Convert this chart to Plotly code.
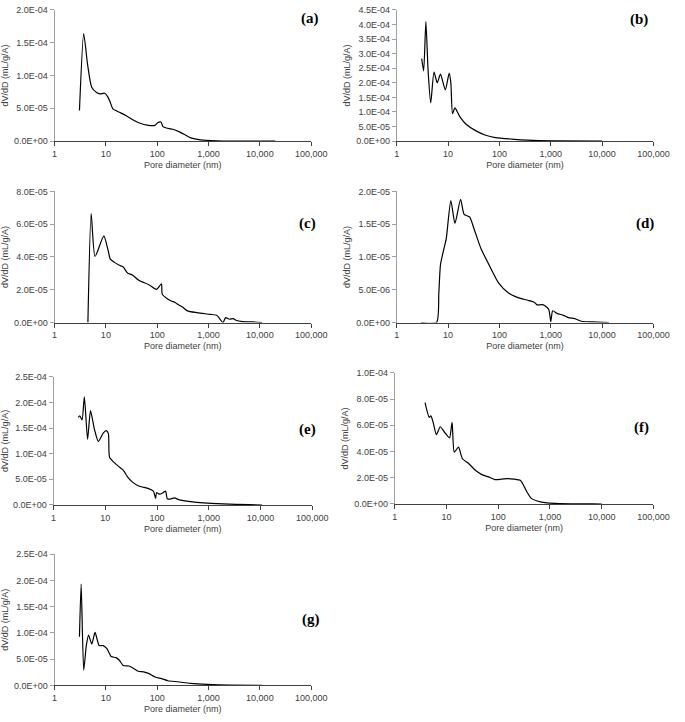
import plotly.graph_objects as go

# ---------------- data ----------------
x_ticks = [1, 10, 100, 1000, 10000, 100000]
x_tick_labels = ["1", "10", "100", "1,000", "10,000", "100,000"]

panel_labels = ["(a)", "(b)", "(c)", "(d)", "(e)", "(f)", "(g)"]

a_x = [3.06, 3.7, 4.4, 5.3, 6.6, 7.7, 9.5, 11, 12.2, 13.7, 18.3, 24.5, 32.7, 43.8, 67.6, 90.6,
       102, 118, 130, 151, 201, 270, 360, 450, 690, 1440, 5300, 20000]
a_y = [4.67e-5, 1.64e-4, 1.17e-4, 8.2e-5, 7.4e-5, 7.2e-5, 7.3e-5, 6.7e-5, 5.9e-5, 4.9e-5, 4.4e-5,
       3.9e-5, 3.3e-5, 2.8e-5, 2.4e-5, 2.4e-5, 2.8e-5, 2.9e-5, 2.2e-5, 2.0e-5, 1.8e-5, 1.4e-5,
       9e-6, 5e-6, 2e-6, 5e-7, 0, 0]
a_yticks = [0, 5e-5, 1e-4, 1.5e-4, 2e-4]

b_x = [3.06, 3.34, 3.69, 4.08, 4.59, 5.31, 6.14, 7.1, 8.83, 10.5, 11.3, 12.2, 13.6, 17, 22.7, 35,
       54, 84, 172, 357, 1140, 10000]
b_y = [2.83e-4, 2.41e-4, 4.1e-4, 2.4e-4, 1.31e-4, 2.37e-4, 2.0e-4, 2.3e-4, 1.76e-4, 2.33e-4,
       2.0e-4, 9.4e-5, 1.14e-4, 8.3e-5, 5.7e-5, 3.5e-5, 2.0e-5, 1.2e-5, 7e-6, 3.4e-6, 1e-6, 0]
b_yticks = [0, 5e-5, 1e-4, 1.5e-4, 2e-4, 2.5e-4, 3e-4, 3.5e-4, 4e-4, 4.5e-4]

c_x = [4.47, 5.17, 6.15, 9.12, 11, 12.2, 14.7, 18.3, 21.8, 26.3, 32.7, 43.8, 67.6, 97, 121, 126,
       187, 217, 251, 311, 388, 600, 1070, 1440, 1920, 2150, 2570, 3040, 3430, 4580, 7070, 11000]
c_y = [0, 6.65e-5, 4.03e-5, 5.28e-5, 4.43e-5, 3.87e-5, 3.67e-5, 3.49e-5, 3.39e-5, 3.02e-5,
       2.9e-5, 2.58e-5, 2.32e-5, 2.02e-5, 2.36e-5, 1.71e-5, 1.31e-5, 1.25e-5, 1.11e-5, 9.5e-6,
       7.1e-6, 6.0e-6, 5.0e-6, 4.4e-6, 0, 3.0e-6, 2.0e-6, 2.4e-6, 1.4e-6, 6e-7, 4e-7, 0]
c_yticks = [0, 2e-5, 4e-5, 6e-5, 8e-5]

d_x = [3.0, 5.97, 6.6, 7.1, 8.2, 9.2, 11.3, 13.6, 17.5, 20.5, 26.2, 32.6, 43.6, 62.7, 96.9, 150,
       231, 357, 477, 537, 718, 913, 1000, 1090, 1320, 1770, 2190, 2930, 3930, 6500, 13500]
d_y = [0, 0, 4.5e-6, 8.8e-6, 1.11e-5, 1.28e-5, 1.86e-5, 1.51e-5, 1.88e-5, 1.65e-5, 1.61e-5,
       1.41e-5, 1.13e-5, 8.8e-6, 6.0e-6, 4.5e-6, 3.8e-6, 3.4e-6, 3.1e-6, 2.7e-6, 2.7e-6, 2.0e-6,
       1.5e-7, 1.8e-6, 1.4e-6, 1.1e-6, 7.6e-7, 6e-7, 2e-7, 1e-7, 0]
d_yticks = [0, 5e-6, 1e-5, 1.5e-5, 2e-5]

e_x = [2.99, 3.22, 3.56, 3.94, 4.55, 5.18, 6.16, 7.33, 9.1, 10.5, 11.5, 12.1, 15.1, 18.7, 22.2,
       26.9, 33.2, 44.4, 68.5, 85, 94, 98, 113, 131, 147, 158, 188, 217, 270, 447, 795, 1890,
       6000, 10700]
e_y = [1.71e-4, 1.74e-4, 1.66e-4, 2.11e-4, 1.28e-4, 1.84e-4, 1.48e-4, 1.24e-4, 1.40e-4, 1.45e-4,
       1.39e-4, 9.3e-5, 8.2e-5, 7.4e-5, 6.8e-5, 5.5e-5, 4.5e-5, 3.7e-5, 3.2e-5, 2.7e-5, 1.3e-5,
       2.4e-5, 2.1e-5, 2.4e-5, 2.7e-5, 1.2e-5, 1.2e-5, 1.4e-5, 1.0e-5, 6.5e-6, 4e-6, 2e-6, 6e-7, 0]
e_yticks = [0, 5e-5, 1e-4, 1.5e-4, 2e-4, 2.5e-4]

f_x = [3.84, 4.63, 4.98, 5.51, 6.37, 7.57, 9.14, 11.4, 12.8, 14.1, 17, 20.3, 27, 36.1, 48.2, 64.5,
       86, 115, 153, 205, 266, 295, 357, 435, 565, 870, 1550, 6600, 10000]
f_y = [7.73e-5, 6.6e-5, 6.72e-5, 6.22e-5, 5.29e-5, 5.89e-5, 5.47e-5, 5.04e-5, 6.22e-5, 3.95e-5,
       4.33e-5, 3.45e-5, 3.07e-5, 2.57e-5, 2.24e-5, 2.07e-5, 1.86e-5, 1.89e-5, 1.94e-5, 1.89e-5,
       1.81e-5, 1.56e-5, 9.3e-6, 4.3e-6, 2.3e-6, 8e-7, 3e-7, 1e-7, 0]
f_yticks = [0, 2e-5, 4e-5, 6e-5, 8e-5, 1e-4]

g_x = [3.06, 3.3, 3.7, 4.16, 4.6, 5.32, 6.15, 7.43, 8.85, 10.5, 12.7, 15.8, 18.3, 21.8, 28.3, 35.2,
       42.6, 54.5, 67.7, 90.6, 121, 162, 251, 447, 930, 2570, 11000]
g_y = [9.3e-5, 1.93e-4, 2.9e-5, 7.6e-5, 9.6e-5, 7.9e-5, 1.01e-4, 7.6e-5, 7.6e-5, 7.0e-5, 5.5e-5,
       5.3e-5, 4.8e-5, 3.8e-5, 3.7e-5, 3.2e-5, 2.7e-5, 2.6e-5, 2.3e-5, 1.6e-5, 1.3e-5, 9e-6,
       7e-6, 4e-6, 2e-6, 6e-7, 0]
g_yticks = [0, 5e-5, 1e-4, 1.5e-4, 2e-4, 2.5e-4]

series_x = [a_x, b_x, c_x, d_x, e_x, f_x, g_x]
series_y = [a_y, b_y, c_y, d_y, e_y, f_y, g_y]
series_yticks = [a_yticks, b_yticks, c_yticks, d_yticks, e_yticks, f_yticks, g_yticks]

x_title = "Pore diameter (nm)"
y_title = "dV/dD (mL/g/A)"

# ---------------- layout (pixel boxes) ----------------
W, H = 685, 722
# (left, right, top, bottom) pixel boxes of each plot area
boxes = [
    (53, 317, 5, 138),
    (405, 669, 5, 138),
    (53, 317, 189, 322),
    (405, 669, 189, 322),
    (52, 318, 377, 507),
    (403, 669, 373, 506),
    (53, 317, 557, 690),
]
label_pos = [(316, 14), (654, 15), (313, 222), (660, 222), (313, 430), (657, 428), (317, 623)]

FONT = "Liberation Sans, Arial, sans-serif"
TXT = "#404040"

fig = go.Figure()
layout = dict(
    width=W, height=H,
    margin=dict(l=0, r=0, t=0, b=0),
    paper_bgcolor="white", plot_bgcolor="white",
    showlegend=False,
    font=dict(family=FONT, size=9, color=TXT),
    annotations=[],
)

for i in range(7):
    n = "" if i == 0 else str(i + 1)
    fig.add_trace(go.Scatter(
        x=series_x[i], y=series_y[i], mode="lines",
        line=dict(color="black", width=1.2, shape="spline", smoothing=0.6),
        xaxis="x" + n, yaxis="y" + n, hoverinfo="skip",
    ))
    l, r, t, b = boxes[i]
    yt = series_yticks[i]
    layout["xaxis" + n] = dict(
        domain=[l / W, r / W], anchor="y" + n, type="log", range=[0, 5],
        tickvals=x_ticks, ticktext=x_tick_labels,
        showgrid=False, zeroline=False,
        showline=True, linecolor="#404040", linewidth=1,
        ticks="outside", ticklen=4, tickcolor="#404040",
        tickfont=dict(size=9, color=TXT, family=FONT),
        title=dict(text=x_title, font=dict(size=9, color=TXT, family=FONT), standoff=3),
    )
    layout["yaxis" + n] = dict(
        domain=[1 - b / H, 1 - t / H], anchor="x" + n,
        range=[0, yt[-1]],
        tickvals=yt, ticktext=[f"{v:.1E}" for v in yt],
        showgrid=False, zeroline=False,
        showline=True, linecolor="#a0a0a0", linewidth=1,
        ticks="outside", ticklen=4, tickcolor="#a0a0a0",
        tickfont=dict(size=9, color=TXT, family=FONT),
        title=dict(text=y_title, font=dict(size=9, color=TXT, family=FONT), standoff=4),
    )
    lx, ly = label_pos[i]
    layout["annotations"].append(dict(
        text="<b>" + panel_labels[i] + "</b>", x=lx / W, y=1 - ly / H,
        xref="paper", yref="paper", xanchor="center", yanchor="middle",
        showarrow=False,
        font=dict(family="Liberation Serif, Times New Roman, serif", size=15, color="black"),
    ))

fig.update_layout(**layout)
fig.write_html("out.html")
